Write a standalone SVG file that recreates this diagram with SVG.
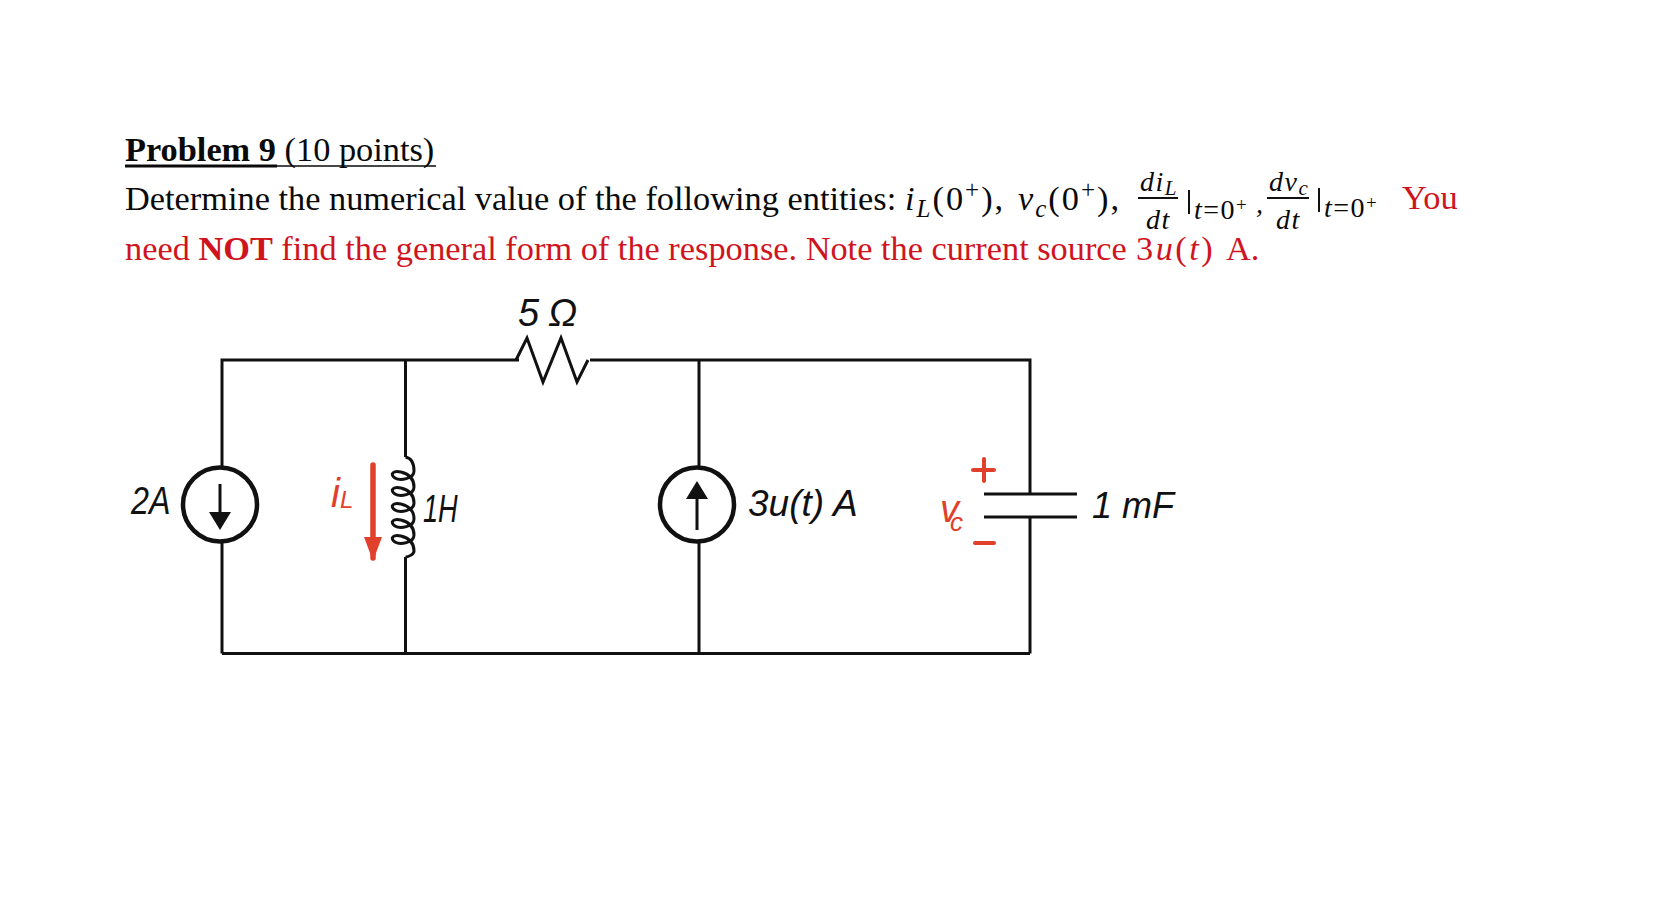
<svg xmlns="http://www.w3.org/2000/svg" width="1671" height="907" viewBox="0 0 1671 907">
<style>
.t{font-family:"Liberation Serif",serif;font-size:34.35px;fill:#0a0a0a}
.r{fill:#d0141e}
.m{font-style:italic}
.up{font-style:normal}
.s{font-size:25px}
.f{font-family:"Liberation Serif",serif;font-size:28px;font-style:italic;fill:#0a0a0a;letter-spacing:1.5px}
.h{font-family:"Liberation Sans",sans-serif;font-style:italic;fill:#111}
.hr{fill:#e0402c}
.w{fill:none;stroke:#111;stroke-width:3}
.c{fill:#fff;stroke:#111;stroke-width:4.500}
.rl{fill:none;stroke:#e0402c;stroke-linecap:round}
</style>
<rect width="1671" height="907" fill="#fff"/>
<g id="problem-text">
<text class="t" x="125" y="161"><tspan font-weight="bold">Problem 9</tspan> (10 points)</text>
<path d="M125 166H277" stroke="#0a0a0a" stroke-width="3"/>
<path d="M277 166H436" stroke="#0a0a0a" stroke-width="1.500"/>
<text class="t" x="125" y="210">Determine the numerical value of the following entities:</text>
<text class="t m" x="905" y="210" letter-spacing="2">i<tspan class="s" dy="7">L</tspan><tspan dy="-7" class="up">(0</tspan><tspan class="s up" dy="-12">+</tspan><tspan dy="12" class="up">),</tspan></text>
<text class="t m" x="1018" y="210" letter-spacing="2">v<tspan class="s" dy="7">c</tspan><tspan dy="-7" class="up">(0</tspan><tspan class="s up" dy="-12">+</tspan><tspan dy="12" class="up">),</tspan></text>
<text class="f" x="1140" y="191">di<tspan font-size="21" dy="4">L</tspan></text>
<text class="f" x="1146" y="229">dt</text>
<line x1="1138" y1="198" x2="1178" y2="198" stroke="#111" stroke-width="2"/>
<line x1="1189" y1="190" x2="1189" y2="214" stroke="#111" stroke-width="2"/>
<text class="f" x="1194" y="219">t<tspan class="up">=0</tspan><tspan font-size="19" dy="-8" class="up">+</tspan></text>
<text class="f" x="1256" y="213" font-style="normal">,</text>
<text class="f" x="1269" y="191">dv<tspan font-size="21" dy="4">c</tspan></text>
<text class="f" x="1276" y="229">dt</text>
<line x1="1267" y1="198" x2="1309" y2="198" stroke="#111" stroke-width="2"/>
<line x1="1319" y1="188" x2="1319" y2="212" stroke="#111" stroke-width="2"/>
<text class="f" x="1324" y="217">t<tspan class="up">=0</tspan><tspan font-size="19" dy="-8" class="up">+</tspan></text>
<text class="t r" x="1402" y="209" font-size="35">You</text>
<text class="t r" x="125" y="260">need <tspan font-weight="bold">NOT</tspan> find the general form of the response. Note the current source</text>
<text class="t r" x="1136" y="260" letter-spacing="2.500">3<tspan class="m">u</tspan>(<tspan class="m">t</tspan>)</text>
<text class="t r" x="1226" y="260">A.</text>
</g>
<g id="connectors">
<path class="w" d="M222 466V360H519M405.500 360V457M405.500 557V653.500M222 653.500H1030M222 653.500V543M590 360H1030V494M699 360V466M699 543V653.500M1030 517V653.500"/>
</g>
<g id="source-2a">
<circle class="c" cx="220" cy="504.500" r="37"/>
<path class="w" stroke-width="4" d="M220 484V516"/>
<path d="M209 512H231L220 530Z" fill="#111"/>
<text class="h" transform="translate(131 514) scale(.95 1.15)" font-size="34">2A</text>
</g>
<g id="inductor">
<path class="w" stroke-width="2.500" d="M405.500 457C411 458 414 462 414 471C414 479 400 481 395 478C389 474 394 470 401 472C409 474 414 479 414 487C414 495 400 497 395 494C389 490 394 486 401 488C409 490 414 495 414 503C414 511 400 513 395 510C389 506 394 502 401 504C409 506 414 511 414 519C414 527 400 529 395 526C389 522 394 518 401 520C409 522 414 527 414 535C414 543 400 545 395 542C389 538 394 534 401 536C409 538 414 543 414 551C414 554 409 557 405.500 557"/>
<text class="h" transform="translate(423 522) scale(.8 1.15)" font-size="34">1H</text>
</g>
<g id="il-arrow">
<path class="rl" stroke-width="5.500" d="M373 465V558"/>
<path d="M364 537H382L373 561Z" fill="#e0402c"/>
<text class="h hr" x="331" y="507" font-size="40">i<tspan font-size="24" dy="1">L</tspan></text>
</g>
<g id="resistor">
<path class="w" d="M516 360L527 338L543 382L561 338L577 382L588 360"/>
<text class="h" x="518" y="326" font-size="38" letter-spacing="9">5Ω</text>
</g>
<g id="source-3ut">
<circle class="c" cx="697" cy="504.500" r="37"/>
<path class="w" stroke-width="4" d="M697 530V495"/>
<path d="M686 499H708L697 481Z" fill="#111"/>
<text class="h" x="748" y="516" font-size="37">3u(t) A</text>
</g>
<g id="capacitor">
<path class="w" d="M984 494H1077M984 517H1077"/>
<text class="h" x="1092" y="518" font-size="36">1 mF</text>
<text class="h hr" x="940" y="522" font-size="38">v</text>
<text class="h hr" x="950" y="531" font-size="26">c</text>
<path class="rl" stroke-width="4" d="M973 470H994M984 459V481M975 543H994"/>
</g>
</svg>
